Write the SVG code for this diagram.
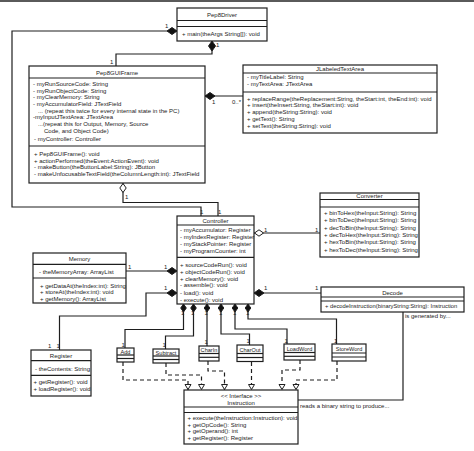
<svg xmlns="http://www.w3.org/2000/svg" width="474" height="451" viewBox="0 0 474 451">
<style>
text{font-family:"Liberation Sans",Arial,sans-serif;font-size:6px;fill:#222}
.t{text-anchor:middle}
.m{font-size:5.6px}
.box{fill:#fff;stroke:#1e1e1e;stroke-width:1.2}
.dv{stroke:#1e1e1e;stroke-width:1.2}
.ln{fill:none;stroke:#1e1e1e;stroke-width:1.2}
.ds{fill:none;stroke:#1e1e1e;stroke-width:1.2;stroke-dasharray:4 3}
.mk{stroke:#1e1e1e;stroke-width:1}
</style>
<defs>
<marker id="fd" markerUnits="userSpaceOnUse" viewBox="0 0 10 8" refX="0" refY="4" markerWidth="10" markerHeight="8" orient="auto" overflow="visible"><path class="mk" d="M0,4 L5,0.5 L10,4 L5,7.5Z" fill="#111"/></marker>
<marker id="hd" markerUnits="userSpaceOnUse" viewBox="0 0 10 8" refX="0" refY="4" markerWidth="10" markerHeight="8" orient="auto" overflow="visible"><path class="mk" d="M0.5,4 L5,0.8 L9.5,4 L5,7.2Z" fill="#fff"/></marker>
<marker id="fs" markerUnits="userSpaceOnUse" viewBox="0 0 8 6" refX="0" refY="3" markerWidth="8" markerHeight="6" orient="auto" overflow="visible"><path class="mk" d="M0,3 L4,0.2 L8,3 L4,5.8Z" fill="#111"/></marker>
<marker id="tri" markerUnits="userSpaceOnUse" viewBox="0 0 6 7" refX="6" refY="3.5" markerWidth="6" markerHeight="7" orient="auto" overflow="visible"><path class="mk" d="M0.5,0.5 L5.5,3.5 L0.5,6.5Z" fill="#fff"/></marker>
</defs>
<rect x="0" y="0" width="474" height="451" fill="#fff"/>
<rect x="0" y="0" width="474" height="2" fill="#5a5a5a"/>

<g id="connectors">
<path class="ln" marker-start="url(#fd)" d="M212,41 V54 H116 V66"/>
<path class="ln" marker-start="url(#fd)" d="M177,31 H12 V207 H201 V216"/>
<path class="ln" marker-start="url(#hd)" d="M123,183 V202.5 H218 V216"/>
<path class="ln" marker-start="url(#fd)" d="M205,96 H243"/>
<path class="ln" marker-start="url(#hd)" d="M254,233 H320"/>
<path class="ln" marker-start="url(#fd)" d="M254,293 H321"/>
<path class="ln" marker-start="url(#fd)" d="M177,271 H126"/>
<path class="ln" marker-start="url(#fd)" d="M177,293 H146 V316 H59.5 V350"/>
<path class="ln" marker-start="url(#fs)" d="M183.5,304 V329.5 H125 V348"/>
<path class="ln" marker-start="url(#fs)" d="M193.5,304 V336 H165.5 V349"/>
<path class="ln" marker-start="url(#fs)" d="M207,304 V346"/>
<path class="ln" marker-start="url(#fs)" d="M221,304 V334 H249.5 V345"/>
<path class="ln" marker-start="url(#fs)" d="M235,304 V329 H287 V344"/>
<path class="ln" marker-start="url(#fs)" d="M248,304 V319 H336.5 V344"/>
<path class="ln" d="M403,312 V400 H298"/>
<path class="ds" marker-end="url(#tri)" d="M123,362 V380 H188 V390"/>
<path class="ds" marker-end="url(#tri)" d="M166,363 V375 H201.5 V390"/>
<path class="ds" marker-end="url(#tri)" d="M208,361 V371 H224.5 V390"/>
<path class="ds" marker-end="url(#tri)" d="M251.5,362 V390"/>
<path class="ds" marker-end="url(#tri)" d="M300,360 V370 H282 V390"/>
<path class="ds" marker-end="url(#tri)" d="M337,361 V380 H296 V390"/>
<text x="216" y="47">1</text>
<text x="110" y="64">1</text>
<text x="165" y="28">1</text>
<text x="212" y="104">1</text>
<text x="232" y="104">0..*</text>
<text x="125" y="199">1</text>
<text x="200" y="214">1</text>
<text x="218" y="214">1</text>
<text x="128" y="269">1</text>
<text x="164" y="269">1</text>
<text x="164" y="290">1</text>
<text x="264" y="232">1</text>
<text x="315" y="232">1</text>
<text x="264" y="290">1</text>
<text x="315" y="290">1</text>
<text x="181" y="315">1</text>
<text x="191" y="315">1</text>
<text x="204.5" y="315">1</text>
<text x="219" y="315">1</text>
<text x="233" y="315">1</text>
<text x="246" y="315">1</text>
<text x="121.5" y="346.5">1</text>
<text x="162.5" y="346.5">1</text>
<text x="204.5" y="343.5">1</text>
<text x="246.5" y="343">1</text>
<text x="284.5" y="342.5">1</text>
<text x="334" y="342.5">1</text>
<text x="48" y="347.5">1</text>
<text x="56.5" y="347.5">1</text>
<text x="405" y="317.5">is generated by...</text>
<text x="300" y="407.5">reads a binary string to produce...</text>
</g>

<g id="Pep8Driver">
<rect class="box" x="177" y="8" width="90" height="33"/>
<line class="dv" x1="177" y1="20.5" x2="267" y2="20.5"/>
<line class="dv" x1="177" y1="26.5" x2="267" y2="26.5"/>
<text class="t" x="222" y="17">Pep8Driver</text>
<text x="182" y="35.5">+ main(theArgs String[]): void</text>
</g>

<g id="Pep8GUIFrame">
<rect class="box" x="29" y="66" width="176" height="117"/>
<line class="dv" x1="29" y1="78" x2="205" y2="78"/>
<line class="dv" x1="29" y1="146" x2="205" y2="146"/>
<text class="t" x="117" y="74.5">Pep8GUIFrame</text>
<text x="33" y="86">- myRunSourceCode: String</text>
<text x="33" y="92.7">- myRunObjectCode: String</text>
<text x="33" y="99.3">- myClearMemory: String</text>
<text x="33" y="106">- myAccumulatorField: JTextField</text>
<text x="38" y="112.7">... (repeat this twice for every internal state in the PC)</text>
<text x="33" y="119.3">-myInputJTextArea: JTextArea</text>
<text x="38" y="126">...(repeat this for Output, Memory, Source</text>
<text x="44" y="132.7">Code, and Object Code)</text>
<text x="34" y="140.5">- myController: Controller</text>
<text x="34" y="156">+ Pep8GUIFrame(): void</text>
<text x="34" y="162.7">+ actionPerformed(theEvent:ActionEvent): void</text>
<text x="34" y="169.3">- makeButton(theButtonLabel:String): JButton</text>
<text x="34" y="176">- makeUnfocusableTextField(theColumnLength:int): JTextField</text>
</g>

<g id="JLabeledTextArea">
<rect class="box" x="243" y="65" width="194" height="68"/>
<line class="dv" x1="243" y1="73" x2="437" y2="73"/>
<line class="dv" x1="243" y1="92" x2="437" y2="92"/>
<text class="t" x="340" y="71.3">JLabeledTextArea</text>
<text x="247" y="79.3">- myTitleLabel: String</text>
<text x="247" y="86.3">- myTextArea: JTextArea</text>
<text x="247" y="100.7">+ replaceRange(theReplacement:String, theStart:int, theEnd:int): void</text>
<text x="247" y="107.3">+ insert(theInsert:String, theStart:int): void</text>
<text x="247" y="114.3">+ append(theString:String): void</text>
<text x="247" y="121.3">+ getText(): String</text>
<text x="247" y="128">+ setText(theString:String): void</text>
</g>

<g id="Converter">
<rect class="box" x="320" y="193" width="99" height="64"/>
<line class="dv" x1="320" y1="199.5" x2="419" y2="199.5"/>
<line class="dv" x1="320" y1="207" x2="419" y2="207"/>
<text class="t" x="369.5" y="197.8">Converter</text>
<text x="324" y="215">+ binToHex(theInput:String): String</text>
<text x="324" y="222.3">+ binToDec(theInput:String): String</text>
<text x="324" y="229.6">+ decToBin(theInput:String): String</text>
<text x="324" y="236.9">+ decToHex(theInput:String): String</text>
<text x="324" y="244.2">+ hexToBin(theInput:String): String</text>
<text x="324" y="251.5">+ hexToDec(theInput:String): String</text>
</g>

<g id="Controller">
<rect class="box" x="177" y="216" width="77" height="88"/>
<line class="dv" x1="177" y1="225" x2="254" y2="225"/>
<line class="dv" x1="177" y1="257.3" x2="254" y2="257.3"/>
<text class="t" x="215.5" y="223">Controller</text>
<text x="180" y="232.3">- myAccumulator: Register</text>
<text x="180" y="239.4">- myIndexRegister: Register</text>
<text x="180" y="246.4">- myStackPointer: Register</text>
<text x="180" y="253.4">- myProgramCounter: int</text>
<text x="180" y="267.3">+ sourceCodeRun(): void</text>
<text x="180" y="273.9">+ objectCodeRun(): void</text>
<text x="180" y="280.7">+ clearMemory(): void</text>
<text x="180" y="287.4">- assemble(): void</text>
<text x="180" y="294.5">- load(): void</text>
<text x="180" y="301.5">- execute(): void</text>
</g>

<g id="Memory">
<rect class="box" x="33" y="253" width="93" height="50"/>
<line class="dv" x1="33" y1="264.3" x2="126" y2="264.3"/>
<line class="dv" x1="33" y1="278" x2="126" y2="278"/>
<text class="t" x="79.5" y="261">Memory</text>
<text x="39" y="273.7">- theMemoryArray: ArrayList</text>
<text x="40" y="287.5">+ getDataAt(theIndex:int): String</text>
<text x="40" y="294.2">+ storeAt(theIndex:int): void</text>
<text x="40" y="300.9">+ getMemory(): ArrayList</text>
</g>

<g id="Decode">
<rect class="box" x="321" y="287" width="143" height="25"/>
<line class="dv" x1="321" y1="297" x2="464" y2="297"/>
<line class="dv" x1="321" y1="301" x2="464" y2="301"/>
<text class="t" x="392.5" y="295">Decode</text>
<text x="325" y="308.3" style="font-size:5.8px">+ decodeInstruction(binaryString:String): Instruction</text>
</g>

<g id="Register">
<rect class="box" x="31" y="350" width="60" height="46"/>
<line class="dv" x1="31" y1="360.7" x2="91" y2="360.7"/>
<line class="dv" x1="31" y1="375.3" x2="91" y2="375.3"/>
<text class="t" x="61" y="357.5">Register</text>
<text x="35" y="371.3">- theContents: String</text>
<text x="33.5" y="384">+ getRegister(): void</text>
<text x="33.5" y="391.3">+ loadRegister(): void</text>
</g>

<g id="Add">
<rect class="box" x="117" y="348" width="17" height="14"/>
<line class="dv" x1="117" y1="355" x2="134" y2="355"/>
<line class="dv" x1="117" y1="358.5" x2="134" y2="358.5"/>
<text class="t m" x="125.5" y="353.8">Add</text>
</g>
<g id="Subtract">
<rect class="box" x="153" y="349" width="26" height="14"/>
<line class="dv" x1="153" y1="356" x2="179" y2="356"/>
<line class="dv" x1="153" y1="359.5" x2="179" y2="359.5"/>
<text class="t m" x="166" y="354.8">Subtract</text>
</g>
<g id="CharIn">
<rect class="box" x="199" y="346" width="20" height="15"/>
<line class="dv" x1="199" y1="353.5" x2="219" y2="353.5"/>
<line class="dv" x1="199" y1="357.3" x2="219" y2="357.3"/>
<text class="t m" x="209" y="352">CharIn</text>
</g>
<g id="CharOut">
<rect class="box" x="237" y="345" width="26" height="16.5"/>
<line class="dv" x1="237" y1="353.5" x2="263" y2="353.5"/>
<line class="dv" x1="237" y1="357.5" x2="263" y2="357.5"/>
<text class="t m" x="250" y="351.5">CharOut</text>
</g>
<g id="LoadWord">
<rect class="box" x="284" y="344" width="31" height="16"/>
<line class="dv" x1="284" y1="352.5" x2="315" y2="352.5"/>
<line class="dv" x1="284" y1="356.3" x2="315" y2="356.3"/>
<text class="t m" x="299.5" y="350.5">LoadWord</text>
</g>
<g id="StoreWord">
<rect class="box" x="332" y="344" width="34" height="17"/>
<line class="dv" x1="332" y1="353" x2="366" y2="353"/>
<line class="dv" x1="332" y1="357" x2="366" y2="357"/>
<text class="t m" x="349" y="351">StoreWord</text>
</g>

<g id="Instruction">
<rect class="box" x="184" y="390" width="114" height="54"/>
<line class="dv" x1="184" y1="407" x2="298" y2="407"/>
<line class="dv" x1="184" y1="412.5" x2="298" y2="412.5"/>
<text class="t" x="241" y="397.5">&lt;&lt; Interface &gt;&gt;</text>
<text class="t" x="241" y="404.5">Instruction</text>
<text x="187.5" y="420">+ execute(theInstruction:Instruction): void</text>
<text x="187.5" y="426.7">+ getOpCode(): String</text>
<text x="187.5" y="433.2">+ getOperand(): int</text>
<text x="187.5" y="439.7">+ getRegister(): Register</text>
</g>
</svg>
